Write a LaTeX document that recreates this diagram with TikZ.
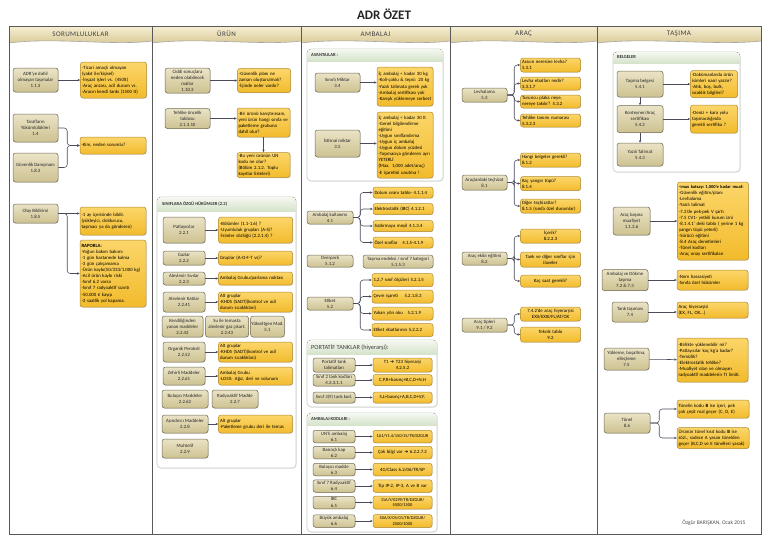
\documentclass[tikz,border=0pt]{standalone}
\usepackage{fontspec}
\setmainfont{Carlito}
\newfontfamily\okfont{DejaVu Sans}
\newfontfamily\basfont[LetterSpace=6]{Carlito}
\usetikzlibrary{positioning,arrows.meta,shadows}

\definecolor{tantop}{HTML}{EAE3C6}
\definecolor{tanbot}{HTML}{CEC291}
\definecolor{tanline}{HTML}{6F6A55}
\definecolor{yeltop}{HTML}{FCD66A}
\definecolor{yelbot}{HTML}{F2BB2C}
\definecolor{yelline}{HTML}{AE8A34}
\definecolor{grpline}{HTML}{C6CCC0}
\definecolor{grptop}{HTML}{F5F8F1}
\definecolor{grpbot}{HTML}{D6E3CB}
\definecolor{headtop}{HTML}{F6EFD3}
\definecolor{headbot}{HTML}{D5C48D}
\definecolor{linkc}{HTML}{4B4B5C}

\newcommand{\kutu}{\fontsize{4.8}{6.1}\selectfont}
\newcommand{\kucukkutu}{\fontsize{4.4}{5.6}\selectfont}

\tikzset{
  tanbox/.style={draw=tanline, line width=0.5pt, rounded corners=2.5pt,
    top color=tantop, bottom color=tanbot, align=center, inner sep=0.8pt,
    font=\kutu, text=black!85,
    drop shadow={opacity=0.22, shadow xshift=0.7pt, shadow yshift=-0.7pt}},
  yelbox/.style={draw=yelline, line width=0.5pt, rounded corners=2.5pt,
    top color=yeltop, bottom color=yelbot, align=left, inner xsep=1.5pt,
    inner ysep=0.8pt, font=\kutu,
    drop shadow={opacity=0.22, shadow xshift=0.7pt, shadow yshift=-0.7pt}},
  yelboxc/.style={yelbox, align=center},
  wh/.style 2 args={minimum width=#1pt, minimum height=#2pt},
  tw/.style 2 args={text width=#1pt, minimum height=#2pt},
  link/.style={draw=linkc, line width=0.55pt, rounded corners=3pt,
    -{Stealth[length=2.6pt, width=2.3pt]}},
  grpframe/.style={draw=grpline, line width=0.6pt, fill=white, rounded corners=4pt,
    drop shadow={opacity=0.15, shadow xshift=0.8pt, shadow yshift=-0.8pt}},
  grphead/.style={top color=grptop, bottom color=grpbot},
  grptitle/.style={font=\fontsize{4.6}{5}\selectfont\bfseries, text=black!80,
    anchor=west, inner sep=0pt},
  headfill/.style={top color=headtop, bottom color=headbot},
  headline/.style={draw=black!35, line width=0.6pt},
  colhead/.style={font=\basfont\fontsize{7}{8}\selectfont, text=black!75},
  frame/.style={draw=black!65, line width=1pt}
}

\begin{document}
\begin{tikzpicture}[x=1pt,y=-1pt]
\useasboundingbox (0,0) rectangle (768,544);

\node[font=\bfseries\fontsize{13}{14}\selectfont, text=black!85] (baslik) at (384,14) {ADR ÖZET};

% ---------------- tablo basliklari
\path[headfill] (9,26) -- (152,26) -- (152,41) .. controls (115,46) and (55,37) .. (9,43) -- cycle;
\draw[headline] (152,41) .. controls (115,46) and (55,37) .. (9,43);
\path[headfill] (152,26) -- (301,26) -- (301,41) .. controls (262,46) and (200,37) .. (152,43) -- cycle;
\draw[headline] (301,41) .. controls (262,46) and (200,37) .. (152,43);
\path[headfill] (301,26) -- (450,26) -- (450,41) .. controls (411,46) and (349,37) .. (301,43) -- cycle;
\draw[headline] (450,41) .. controls (411,46) and (349,37) .. (301,43);
\path[headfill] (450,26) -- (597,26) -- (597,41) .. controls (559,46) and (497,37) .. (450,43) -- cycle;
\draw[headline] (597,41) .. controls (559,46) and (497,37) .. (450,43);
\path[headfill] (597,26) -- (761,26) -- (761,41) .. controls (718,46) and (649,37) .. (597,43) -- cycle;
\draw[headline] (761,41) .. controls (718,46) and (649,37) .. (597,43);
\node[colhead] (hsor) at (80.5,34) {SORUMLULUKLAR};
\node[colhead] (hurun) at (226.5,34) {ÜRÜN};
\node[colhead] (hamb) at (375.5,34) {AMBALAJ};
\node[colhead] (harac) at (523.5,34) {ARAÇ};
\node[colhead] (htas) at (679,34) {TAŞIMA};
\draw[frame] (9,26) rectangle (761,534);
\draw[frame] (152,26) -- (152,534);
\draw[frame] (301,26) -- (301,534);
\draw[frame] (450,26) -- (450,534);
\draw[frame] (597,26) -- (597,534);

% ---------------- gruplar
\draw[grpframe] (157,197) rectangle (296,468);
\begin{scope}
\clip[rounded corners=4pt] (157,197) rectangle (296,468);
\fill[grphead] (157,197) rectangle (296,211);
\end{scope}
\node[grptitle] (sinifbas) at (162,204) {SINIFLARA ÖZGÜ HÜKÜMLER (2.2)};

\draw[grpframe] (307,49) rectangle (443,181);
\begin{scope}
\clip[rounded corners=4pt] (307,49) rectangle (443,181);
\fill[grphead] (307,49) rectangle (443,61);
\end{scope}
\node[grptitle] (avbas) at (311,55) {AVANTAJLAR :};

\draw[grpframe] (307,340) rectangle (437,407);
\begin{scope}
\clip[rounded corners=4pt] (307,340) rectangle (437,407);
\fill[grphead] (307,340) rectangle (437,354);
\end{scope}
\node[grptitle, font=\fontsize{6.3}{7}\selectfont, text=black!75] (portbas) at (311,347) {PORTATİF TANKLAR (hiyerarşi):};

\draw[grpframe] (307,413) rectangle (437,532);
\begin{scope}
\clip[rounded corners=4pt] (307,413) rectangle (437,532);
\fill[grphead] (307,413) rectangle (437,425);
\end{scope}
\node[grptitle] (kodbas) at (311,419) {AMBALAJ KODLARI :};

\draw[grpframe] (613,52) rectangle (740,172);
\begin{scope}
\clip[rounded corners=4pt] (613,52) rectangle (740,172);
\fill[grphead] (613,52) rectangle (740,63);
\end{scope}
\node[grptitle] (belbas) at (617,57.5) {BELGELER};

% ---------------- SORUMLULUKLAR
\node[tanbox, wh={45}{24}] (adr) at (35.5,80) {ADR'ye dahil\\olmayan taşımalar\\1.1.3};
\node[yelbox, tw={63}{36}, right=22pt of adr] (adrmuaf) {-Ticari amaçlı olmayan\\(yakıt ile/kişisel)\\-İnşaat işleri vs. (450lt)\\-Araç arızası, acil durum vs.\\-Aracın kendi tankı (1500 lt)};
\node[tanbox, wh={45}{28}] (taraf) at (35.5,128) {Tarafların\\Yükümlülükleri\\1.4};
\node[tanbox, wh={45}{29}] (guven) at (35.5,167.5) {Güvenlik Danışmanı\\1.8.3};
\node[yelbox, tw={63}{17}] (kim) at (113,145.5) {-Kim, neden sorumlu?};
\node[tanbox, wh={45}{19}] (olay) at (35.5,213.5) {Olay Bildirimi\\1.8.5};
\node[yelbox, tw={63}{28}] (bildir) at (113,221) {-1 ay içerisinde bildir.\\(yükleyici, doldurucu,\\taşımacı ya da gönderen)};
\node[yelbox, tw={63}{67}] (rapor) at (113,273.5) {\textbf{RAPORLA:}\\-Yoğun bakım bakımı\\-1 gün hastanede kalma\\-3 gün çalışamama\\-Ürün kaybı(50/333/1.000 kg)\\-Acil ürün kaybı riski\\-Sınıf 6.2 varsa\\-Sınıf 7 radyoaktif sızıntı\\-50.000 € kayıp\\-3 saatlik yol kapama.};
\draw[link] (adr.east) -- (adr.east -| adrmuaf.west);
\draw[link] (taraf.east) -- ++(9,0) |- (kim.west);
\draw[link] (guven.east) -- ++(9,0) |- (kim.west);
\draw[link] (olay.east) -- (olay.east -| bildir.west);
\draw[link] (olay.east) -- ++(9,0) |- (rapor.west);

% ---------------- URUN
\node[tanbox, wh={45}{25}] (ciddi) at (187.5,80.5) {Ciddi sonuçlara\\neden olabilecek\\mallar\\1.10.3};
\node[yelbox, tw={50}{24}, right=27pt of ciddi] (plan) {-Güvenlik planı ne\\zaman oluşturulmalı?\\-İçinde neler vardır?};
\node[tanbox, wh={45}{20}] (oncelik) at (187.5,118.5) {Tehlike öncelik\\tablosu\\2.1.3.10};
\node[yelbox, tw={50}{29}] (karis) at (263.5,122.5) {-Bir ürünü karıştırırsam,\\yeni ürün hangi sınıfa ve\\paketleme grubuna\\dahil olur?};
\node[yelbox, tw={50}{25}, below=15pt of karis] (yeniun) {-Bu yeni ürünün UN\\kodu ne olur?\\(Bölüm 2.1.2. Toplu\\kayıtlar listeleri)};
\draw[link] (ciddi.east) -- (ciddi.east -| plan.west);
\draw[link] (oncelik.east) -- (oncelik.east -| karis.west);
\draw[link] (karis.south) -- (yeniun.north);
%----------------------------------
\node[tanbox, wh={42}{26}] (patl) at (184,230) {Patlayıcılar\\2.2.1};
\node[yelbox, tw={71}{26}, right=13pt of patl] (patlc) {-Bölümler (1.1-1.6) ?\\-Uyumluluk grupları (A-S)?\\-İsimler sözlüğü (2.2.1.4) ?};
\node[tanbox, wh={42}{14}] (gaz) at (184,258) {Gazlar\\2.2.2};
\node[yelbox, tw={71}{14}, right=13pt of gaz] (gazc) {Gruplar (A-O-F-T vs)?};
\node[tanbox, wh={42}{13}] (sivi) at (184,278.5) {Alevlenir Sıvılar\\2.2.3};
\node[yelbox, tw={71}{13}, right=13pt of sivi] (sivic) {Ambalaj Grubu/parlama noktası};
\node[tanbox, wh={42}{20}] (kati) at (184,302) {Alevlenir Katılar\\2.2.41};
\node[yelbox, tw={71}{20}, right=13pt of kati] (katic) {Alt gruplar\\-KHDS (SADT)(kontrol ve acil\\durum sıcaklıkları)};
\node[tanbox, wh={41}{21}] (kend) at (182.5,326.5) {Kendiliğinden\\yanan maddeler\\2.2.42};
\node[tanbox, wh={43}{21}] (suile) at (227,326.5) {Su ile temasta\\alevlenir gaz çıkart.\\2.2.43};
\node[tanbox, wh={32}{21}] (yuks) at (267.5,326.5) {Yükseltgen Mad.\\5.1};
\node[tanbox, wh={42}{20}] (orgp) at (184,352) {Organik Peroksit\\2.2.52};
\node[yelbox, tw={71}{20}, right=13pt of orgp] (orgpc) {Alt gruplar\\-KHDS (SADT)(kontrol ve acil\\durum sıcaklıkları)};
\node[tanbox, wh={42}{18}] (zeh) at (184,376) {Zehirli Maddeler\\2.2.61};
\node[yelbox, tw={71}{18}, right=13pt of zeh] (zehc) {Ambalaj Grubu\\-LD50: Ağız, deri ve solunum};
\node[tanbox, wh={46}{18}] (bulas) at (185,399) {Bulaşıcı Maddeler\\2.2.62};
\node[tanbox, wh={46}{18}] (radyo) at (235,399) {Radyoaktif Madde\\2.2.7};
\node[tanbox, wh={46}{18}] (asin) at (185,424) {Aşındırıcı Maddeler\\2.2.8};
\node[yelbox, tw={71}{18}, right=10pt of asin] (asinc) {Alt gruplar\\-Paketleme grubu deri ile temas};
\node[tanbox, wh={46}{19}] (muht) at (185,448.5) {Muhtelif\\2.2.9};
\draw[link] (patl) -- (patlc);
\draw[link] (gaz) -- (gazc);
\draw[link] (sivi) -- (sivic);
\draw[link] (kati) -- (katic);
\draw[link] (orgp) -- (orgpc);
\draw[link] (zeh) -- (zehc);
\draw[link] (asin) -- (asinc);

% ---------------- AMBALAJ
\node[tanbox, wh={45}{19}] (sinirli) at (337.5,82.5) {Sınırlı Miktar\\3.4};
\node[yelbox, tw={53}{39}] (sinirlic) at (405,86.5) {İç ambalaj < kadar 30 kg\\-Koli-çoklu \& tepsi: 20 kg\\-Yazılı talimata gerek yok\\-Ambalaj sertifikası yok\\-Karışık yüklemeye serbest};
\node[tanbox, wh={45}{27}] (istisna) at (337.5,143.5) {İstisnai miktar\\3.5};
\node[yelbox, tw={53}{66}] (istisnac) at (405,145) {İç ambalaj < kadar 30 lt\\-Genel bilgilendirme\\eğitimi\\-Uygun sınıflandırma\\-Uygun iç ambalaj\\-Uygun dolum yüzdesi\\-Taşımacıya gönderen ayrı\\YETERLİ\\(Max. 1,000 adet/araç)\\-E işaretini unutma !};
\draw[link] (sinirli.east) -- (sinirli.east -| sinirlic.west);
\draw[link] (istisna.east) -- (istisna.east -| istisnac.west);
%----------------------------------
\node[tanbox, wh={46}{13}] (ambk) at (330,217.5) {Ambalaj kullanımı\\4.1};
\node[yelbox, tw={57}{11}] (ambk1) at (403,192.5) {Dolum oranı tablo- 4.1.1.4};
\node[yelbox, tw={57}{11}] (ambk2) at (403,209) {Elektrostatik (IBC) 4.1.2.1};
\node[yelbox, tw={57}{11}] (ambk3) at (403,226) {Sızdırmaya meyil 4.1.3.4};
\node[yelbox, tw={57}{11}] (ambk4) at (403,242.5) {Özel sınıflar~~ 4.1.5-4.1.9};
\draw[link] (ambk.east) -- ++(7,0) |- (ambk1.west);
\draw[link] (ambk.east) -- ++(7,0) |- (ambk2.west);
\draw[link] (ambk.east) -- ++(7,0) |- (ambk3.west);
\draw[link] (ambk.east) -- ++(7,0) |- (ambk4.west);
\node[tanbox, wh={46}{12}] (overp) at (330,261) {Overpack\\5.1.2};
\node[tanbox, wh={70}{13}] (endeks) at (398,261.5) {Taşıma endeksi / sınıf 7 kategori\\5.1.5.3};
\node[tanbox, wh={46}{13}] (etiket) at (330,303.5) {Etiket\\5.2};
\node[yelbox, tw={58}{13}] (etk1) at (402.5,280) {1,2,7 sınıf ölçüleri 5.2.1.5};
\node[yelbox, tw={58}{13}] (etk2) at (402.5,296.5) {Çevre işareti~~~ 5.2.1.8.3};
\node[yelbox, tw={58}{13}] (etk3) at (402.5,313.5) {Yukarı yön oku~~ 5.2.1.9};
\node[yelbox, tw={58}{13}] (etk4) at (402.5,330) {Etiket ebatlarının 5.2.2.2};
\draw[link] (etiket.east) -- ++(7,0) |- (etk1.west);
\draw[link] (etiket.east) -- ++(7,0) |- (etk2.west);
\draw[link] (etiket.east) -- ++(7,0) |- (etk3.west);
\draw[link] (etiket.east) -- ++(7,0) |- (etk4.west);
%----------------------------------
\node[tanbox, wh={42}{14}] (porttal) at (334,365) {Portatif tank\\talimatları};
\node[yelboxc, tw={56}{14}] (porttalc) at (402.5,365) {T1 {\okfont ➔} T23 hiyerarşi\\4.2.5.2};
\node[tanbox, wh={42}{12}] (sinif2) at (334,380) {Sınıf 2 tank kodları\\4.3.3.1.1};
\node[yelboxc, tw={56}{11}] (sinif2c) at (402.5,380) {C,P,R+basınç+B,C,D+N,H};
\node[tanbox, wh={42}{11}] (sinif3) at (334,397.5) {Sınıf 3(9) tank kod.};
\node[yelboxc, tw={56}{11}] (sinif3c) at (402.5,397.5) {S,L+basınç+A,B,C,D+V,F.};
\draw[link] (porttal) -- (porttalc);
\draw[link] (sinif2) -- (sinif2c);
\draw[link] (sinif3) -- (sinif3c);
%----------------------------------
\node[tanbox, wh={42}{12.5}] (unli) at (334,436.5) {UN'li ambalaj\\6.1};
\node[yelboxc, tw={56}{12.5}, font=\kucukkutu] (unlic) at (402.5,436.5) {1A1/Y1.4/150/15/TR/DZGUR};
\node[tanbox, wh={42}{12.5}] (basinc) at (334,452.5) {Basınçlı kap\\6.2};
\node[yelboxc, tw={56}{12.5}] (basincc) at (402.5,452.5) {Çok bilgi var {\okfont ➔} 6.2.2.7.2};
\node[tanbox, wh={42}{12.5}] (bulmad) at (334,469.5) {Bulaşıcı madde\\6.3};
\node[yelboxc, tw={56}{12.5}] (bulmadc) at (402.5,469.5) {4G/Class 6.2/06/TR/SP};
\node[tanbox, wh={42}{12.5}] (radamb) at (334,486) {Sınıf 7 Radyoaktif\\6.4};
\node[yelboxc, tw={56}{12.5}] (radambc) at (402.5,486) {Tip IP-2, IP-3, A ve B var};
\node[tanbox, wh={42}{12.5}] (ibc) at (334,502.5) {IBC\\6.5};
\node[yelboxc, tw={56}{13}, font=\kucukkutu] (ibcc) at (402.5,502.5) {11A/Y/0299/TR/DZGUR/\\5500/1500};
\node[tanbox, wh={42}{12.5}] (buyuk) at (334,521) {Büyük ambalaj\\6.6};
\node[yelboxc, tw={56}{13}, font=\kucukkutu] (buyukc) at (402.5,521) {50A/X/05/01/TR/DZGUR/\\2500/1000};
\draw[link] (unli) -- (unlic);
\draw[link] (basinc) -- (basincc);
\draw[link] (bulmad) -- (bulmadc);
\draw[link] (radamb) -- (radambc);
\draw[link] (ibc) -- (ibcc);
\draw[link] (buyuk) -- (buyukc);

% ---------------- ARAC
\node[tanbox, wh={45}{14}] (levha) at (484.5,95) {Levhalama\\5.3};
\node[yelbox, tw={57}{14}] (lev1) at (550.5,65) {Aracın neresine levha?\\5.3.1};
\node[yelbox, tw={57}{13}] (lev2) at (550.5,83.5) {Levha ebatları nedir?\\5.3.1.7};
\node[yelbox, tw={57}{13}] (lev3) at (550.5,101.5) {Turuncu plaka neye,\\nereye takılır? 5.3.2};
\node[yelbox, tw={57}{13}] (lev4) at (550.5,120.5) {Tehlike tanımı numarası\\5.3.2.3};
\draw[link] (levha.east) -- ++(7,0) |- (lev1.west);
\draw[link] (levha.east) -- ++(7,0) |- (lev2.west);
\draw[link] (levha.east) -- ++(7,0) |- (lev3.west);
\draw[link] (levha.east) -- ++(7,0) |- (lev4.west);
%----------------------------------
\node[tanbox, wh={45}{15}] (techiz) at (484.5,182.5) {Araçlardaki teçhizat\\8.1};
\node[yelbox, tw={57}{14}] (tec1) at (550.5,160) {Hangi belgeler gerekli?\\8.1.2};
\node[yelbox, tw={57}{14}] (tec2) at (550.5,183.5) {Kaç yangın tüpü?\\8.1.4};
\node[yelbox, tw={57}{14}] (tec3) at (550.5,206) {Diğer teçhizatlar?\\8.1.5 (sınıfa özel durumlar)};
\draw[link] (techiz.east) -- ++(7,0) |- (tec1.west);
\draw[link] (techiz.east) -- ++(7,0) |- (tec2.west);
\draw[link] (techiz.east) -- ++(7,0) |- (tec3.west);
%----------------------------------
\node[tanbox, wh={45}{13}] (ekip) at (484.5,258.5) {Araç ekibi eğitimi\\8.2};
\node[yelboxc, tw={57}{14}] (ekip1) at (550.5,236) {İçerik?\\8.2.2.3};
\node[yelboxc, tw={57}{15}] (ekip2) at (550.5,259.5) {Tank ve diğer sınıflar için\\ilaveler};
\node[yelboxc, tw={57}{12}] (ekip3) at (550.5,281) {Kaç saat gerekli?};
\draw[link] (ekip.east) -- ++(7,0) |- (ekip1.west);
\draw[link] (ekip.east) -- ++(7,0) |- (ekip2.west);
\draw[link] (ekip.east) -- ++(7,0) |- (ekip3.west);
%----------------------------------
\node[tanbox, wh={45}{14}] (tipler) at (484.5,325) {Araç tipleri\\9.1 / 9.2};
\node[yelboxc, tw={57}{14}] (tip1) at (550.5,314) {7.4.2'de araç hiyerarşisi\\EXII/EXIII/FL/AT/OX};
\node[yelboxc, tw={57}{15}] (tip2) at (550.5,334.5) {Teknik tablo\\9.2};
\draw[link] (tipler.east) -- ++(7,0) |- (tip1.west);
\draw[link] (tipler.east) -- ++(7,0) |- (tip2.west);

% ---------------- TASIMA
\node[tanbox, wh={46}{26}] (tasbel) at (640,84) {Taşıma belgesi\\5.4.1};
\node[yelbox, tw={44}{27}, right=27pt of tasbel] (tasbelc) {-Dokümanlarda ürün\\isimleri nasıl yazılır?\\-Atık, boş, bulk,\\sıcaklık bilgileri?};
\node[tanbox, wh={46}{27}, below=8pt of tasbel] (konteyner) {Konteyner/Araç\\sertifikası\\5.4.2};
\node[yelbox, tw={44}{28}, right=27pt of konteyner] (konteynerc) {-Deniz + kara yolu\\taşımacılığında\\gerekli sertifika ?};
\node[tanbox, wh={46}{23}, below=10pt of konteyner] (yazili) {Yazılı Talimat\\5.4.3};
\draw[link] (tasbel) -- (tasbelc);
\draw[link] (tasbel) -- (konteyner);
\draw[link] (konteyner) -- (konteynerc);
\draw[link] (konteyner) -- (yazili);
%----------------------------------
\node[tanbox, wh={37}{28}] (muaf) at (631.5,221) {Araç başına\\muafiyet\\1.1.3.6};
\node[yelbox, tw={68}{78}, right=27pt of muaf] (muafc) {{\fontsize{4.5}{6.1}\selectfont\textbf{<max katsayı 1,000'e kadar muaf:}}\\-Güvenlik eğitim/planı\\-Levhalama\\-Yazılı talimat\\-7.2'de pek-pek V şartı\\-7.5 CV1- yetkili kurum izni\\-8.1.4.1' deki tablo ( yerine 1 kg\\yangın tüpü yeterli)\\-Sürücü eğitimi\\-8.4 Araç denetimleri\\-Tünel kodları\\-Araç onay sertifikaları};
\draw[link] (muaf) -- (muafc);
\node[tanbox, wh={46}{21}] (dokme) at (625,280) {Ambalaj ve Dökme\\taşıma\\7.2 \& 7.3};
\node[yelbox, tw={68}{20}] (dokmec) at (712.5,280) {-Nem hassasiyeti\\-Sınıfa özel hükümler};
\draw[link] (dokme) -- (dokmec);
\node[tanbox, wh={36}{20}] (tanktas) at (630,312) {Tank taşıması\\7.4};
\node[yelbox, tw={68}{16}] (tanktasc) at (712.5,310) {Araç hiyerarşisi\\(EX, FL, OX...)};
\draw[link] (tanktas.east) -- (tanktas.east -| tanktasc.west);
\node[tanbox, wh={45}{22}] (yukle) at (626.5,359) {Yükleme, boşaltma,\\elleçleme\\7.5};
\node[yelbox, tw={68}{44}] (yuklec) at (712.5,360) {-Birlikte yüklenebilir mi?\\-Patlayıcılar kaç kg'a kadar?\\-Temizlik?\\-Elektrostatik tehlike?\\-Muafiyet olan ve olmayan\\radyoaktif maddelerin TI limiti.};
\draw[link] (yukle) -- (yuklec);
\node[tanbox, wh={46}{20}] (tunel) at (627,423) {Tünel\\8.6};
\node[yelbox, tw={69}{18}] (tunel1) at (713,409) {Tünelin kodu \textbf{B} ise içeri, pek\\çok çeşit mal geçer (C, D, E)};
\node[yelbox, tw={69}{21}] (tunel2) at (713,438) {Ürünün tünel kısıt kodu \textbf{B} ise\\sözl., sadece A yasan tünelden\\geçer (B,C,D ve E tünelleri yasak)};
\draw[link] (tunel.east) -- ++(9,0) |- (tunel1.west);
\draw[link] (tunel.east) -- ++(9,0) |- (tunel2.west);

\node[font=\fontsize{5.5}{6}\selectfont, text=black!70, anchor=east] (imza) at (749,523) {Özgür BARIŞKAN, Ocak 2015};
\end{tikzpicture}
\end{document}
